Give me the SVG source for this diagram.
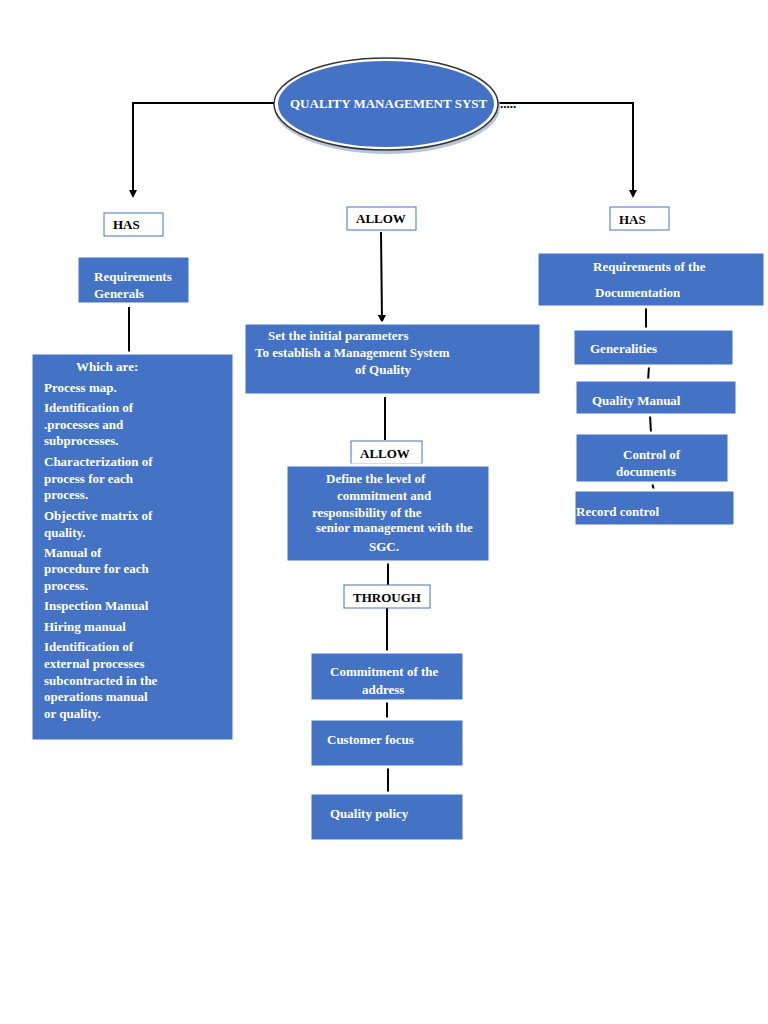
<svg xmlns="http://www.w3.org/2000/svg" width="768" height="1024" viewBox="0 0 768 1024">
<defs>
<marker id="ah" markerWidth="8" markerHeight="8" refX="6" refY="4" orient="auto" markerUnits="userSpaceOnUse"><path d="M0,0 L8,4 L0,8 z" fill="#000"/></marker>
</defs>
<style>
.b{fill:#4472c4;stroke:#fff;stroke-width:3}
.l{fill:#fff;stroke:#4472c4;stroke-width:1}
text{font-family:"Liberation Serif",serif;font-weight:bold;font-size:13px}
.w{fill:#fff}
.k{fill:#000}
.c{stroke:#000;stroke-width:2;fill:none}
</style>
<rect width="768" height="1024" fill="#fff"/>
<g id="connectors">
<path class="c" d="M275,103 H133 V196" marker-end="url(#ah)"/>
<path class="c" d="M498,103 H633 V196" marker-end="url(#ah)"/>
<path class="c" d="M381,232 L382,321" marker-end="url(#ah)"/>
<line class="c" x1="129" y1="307" x2="129" y2="353"/>
<line class="c" x1="385" y1="397" x2="385" y2="440"/>
<line class="c" x1="388" y1="561" x2="388" y2="585"/>
<line class="c" x1="387" y1="608" x2="387" y2="653"/>
<line class="c" x1="387" y1="700" x2="387" y2="720"/>
<line class="c" x1="388" y1="768" x2="388" y2="793"/>
<line class="c" x1="646" y1="306" x2="646" y2="330"/>
<line class="c" x1="649" y1="366" x2="648" y2="381"/>
<line class="c" x1="650" y1="414" x2="651" y2="434"/>
<line class="c" x1="652" y1="482" x2="654" y2="491"/>
</g>
<g id="qms">
<ellipse cx="387" cy="107" rx="113" ry="47" fill="#b8c4d8"/>
<ellipse cx="386" cy="104" rx="112" ry="46" fill="#fff" stroke="#333" stroke-width="1.5"/>
<ellipse cx="386" cy="104" rx="108" ry="43" fill="#4472c4"/>
<text x="290" y="108" class="w" font-size="12">QUALITY MANAGEMENT SYST</text>
<text x="500" y="108" class="k" font-size="8">.....</text>
</g>
<g id="has1"><rect class="l" x="104" y="213" width="59" height="23"/><text x="113" y="229" class="k">HAS</text></g>
<g id="allow1"><rect class="l" x="347" y="207" width="69" height="23"/><text x="356" y="223" class="k">ALLOW</text></g>
<g id="has2"><rect class="l" x="610" y="207" width="59" height="23"/><text x="619" y="224" class="k">HAS</text></g>
<g id="reqgen"><rect class="b" x="77" y="256" width="113" height="48"/><text x="94" y="281" class="w">Requirements</text><text x="94" y="298" class="w">Generals</text></g>
<g id="reqdoc"><rect class="b" x="537" y="252" width="228" height="55"/><text x="593" y="271" class="w">Requirements of the</text><text x="595" y="297" class="w">Documentation</text></g>
<g id="setparams"><rect class="b" x="244" y="323" width="297" height="72"/><text x="268" y="340" class="w">Set the initial parameters</text><text x="255" y="357" class="w">To establish a Management System</text><text x="355" y="374" class="w">of Quality</text></g>
<g id="which"><rect class="b" x="31" y="353" width="203" height="388"/>
<text class="w"><tspan x="76" y="371">Which are:</tspan><tspan x="44" y="392">Process map.</tspan><tspan x="44" y="412">Identification of</tspan><tspan x="44" y="429">.processes and</tspan><tspan x="44" y="445">subprocesses.</tspan><tspan x="44" y="466">Characterization of</tspan><tspan x="44" y="483">process for each</tspan><tspan x="44" y="499">process.</tspan><tspan x="44" y="520">Objective matrix of</tspan><tspan x="44" y="537">quality.</tspan><tspan x="44" y="557">Manual of</tspan><tspan x="44" y="573">procedure for each</tspan><tspan x="44" y="590">process.</tspan><tspan x="44" y="610">Inspection Manual</tspan><tspan x="44" y="631">Hiring manual</tspan><tspan x="44" y="651">Identification of</tspan><tspan x="44" y="668">external processes</tspan><tspan x="44" y="685">subcontracted in the</tspan><tspan x="44" y="701">operations manual</tspan><tspan x="44" y="718">or quality.</tspan></text></g>
<g id="allow2"><rect class="l" x="351" y="441" width="71" height="23"/><text x="360" y="458" class="k">ALLOW</text></g>
<g id="define"><rect class="b" x="286" y="465" width="204" height="97"/><text x="326" y="483" class="w">Define the level of</text><text x="337" y="500" class="w">commitment and</text><text x="312" y="517" class="w">responsibility of the</text><text x="316" y="532" class="w" font-size="11">senior management with the</text><text x="369" y="551" class="w" font-weight="normal" font-size="14">SGC.</text></g>
<g id="through"><rect class="l" x="344" y="585" width="86" height="23"/><text x="353" y="602" class="k">THROUGH</text></g>
<g id="commit"><rect class="b" x="310" y="652" width="154" height="49"/><text x="330" y="676" class="w">Commitment of the</text><text x="362" y="694" class="w">address</text></g>
<g id="customer"><rect class="b" x="310" y="719" width="154" height="48"/><text x="327" y="744" class="w">Customer focus</text></g>
<g id="policy"><rect class="b" x="310" y="793" width="154" height="48"/><text x="330" y="818" class="w">Quality policy</text></g>
<g id="generalities"><rect class="b" x="573" y="329" width="161" height="37"/><text x="590" y="353" class="w">Generalities</text></g>
<g id="qmanual"><rect class="b" x="575" y="380" width="162" height="35"/><text x="592" y="405" class="w">Quality Manual</text></g>
<g id="control"><rect class="b" x="575" y="433" width="154" height="50"/><text x="623" y="459" class="w">Control of</text><text x="616" y="476" class="w">documents</text></g>
<g id="record"><rect class="b" x="574" y="490" width="161" height="36"/><text x="576" y="516" class="w">Record control</text></g>
</svg>
